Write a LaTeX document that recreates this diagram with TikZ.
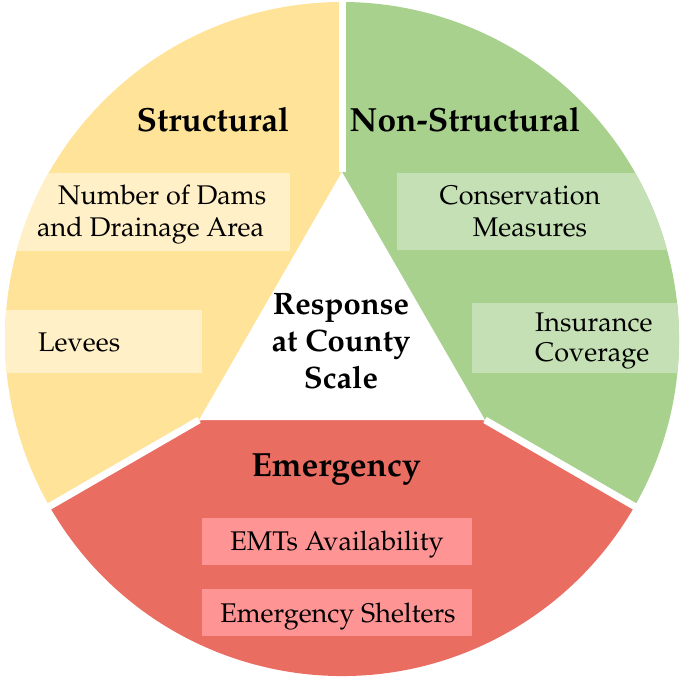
\documentclass[tikz,border=0pt]{standalone}
\usepackage[T1]{fontenc}
\usepackage{mathpazo}
\definecolor{ylw}{HTML}{FEE398}
\definecolor{grn}{HTML}{A9D18E}
\definecolor{redc}{HTML}{EA6D62}
\definecolor{ylwbox}{HTML}{FFF0C8}
\definecolor{grnbox}{HTML}{C5E0B4}
\definecolor{redbox}{HTML}{FF9494}
\begin{document}
\begin{tikzpicture}[x=1pt,y=1pt,
  titletxt/.style={inner sep=0pt,font=\fontsize{33.5}{40}\selectfont\bfseries},
  centertxt/.style={inner sep=0pt,font=\fontsize{31}{37}\selectfont\bfseries},
  itemtxt/.style={inner sep=0pt,font=\fontsize{27}{32}\selectfont},
  gapline/.style={white,line width=7pt},
  boxY/.style={fill=ylwbox},
  boxG/.style={fill=grnbox},
  boxR/.style={fill=redbox}]
\useasboundingbox (0,0) rectangle (685,678);
\coordinate (O) at (342,339);
% sectors
\fill[ylw] (O) -- ++(90:337) arc[start angle=90,end angle=210,radius=337] -- cycle;
\fill[grn] (O) -- ++(-30:337) arc[start angle=-30,end angle=90,radius=337] -- cycle;
\fill[redc] (O) -- ++(210:337) arc[start angle=210,end angle=330,radius=337] -- cycle;
% boxes
\begin{scope}
\clip (O) circle[radius=337];
\fill[boxY] (13,427) rectangle (290,505);
\fill[boxY] (0,305) rectangle (202,368);
\fill[boxG] (397,428) rectangle (670,505);
\fill[boxG] (472,305) rectangle (685,375);
\fill[boxR] (202,113) rectangle (472,160);
\fill[boxR] (202,42) rectangle (472,89);
\end{scope}
% central triangle
\coordinate (T1) at (342,506);
\coordinate (T2) at (199,258);
\coordinate (T3) at (485,258);
\fill[white] (T1) -- (T2) -- (T3) -- cycle;
% gaps
\draw[gapline] (T1) -- ++(90:200);
\draw[gapline] (T2) -- ++(210:200);
\draw[gapline] (T3) -- ++(330:200);
% texts
\node[titletxt,anchor=base] (st) at (213,546) {Structural};
\node[titletxt,anchor=base] (ns) at (465,546) {Non-Structural};
\node[titletxt,anchor=base] (em) at (336,202) {Emergency};
\node[centertxt,anchor=base] (c1) at (341,363) {Response};
\node[centertxt,anchor=base] (c2) at (341,326) {at County};
\node[centertxt,anchor=base] (c3) at (341,290) {Scale};
\node[itemtxt,anchor=base west] (d1) at (58,473) {Number of Dams};
\node[itemtxt,anchor=base west] (d2) at (37,441) {and Drainage Area};
\node[itemtxt,anchor=base west] (lv) at (38,326) {Levees};
\node[itemtxt,anchor=base] (k1) at (520,473) {Conservation};
\node[itemtxt,anchor=base] (k2) at (530,441) {Measures};
\node[itemtxt,anchor=base west] (i1) at (535,346) {Insurance};
\node[itemtxt,anchor=base west] (i2) at (535,316) {Coverage};
\node[itemtxt,anchor=base] (e1) at (337,128) {EMTs Availability};
\node[itemtxt,anchor=base] (e2) at (338,56) {Emergency Shelters};
\end{tikzpicture}
\end{document}
